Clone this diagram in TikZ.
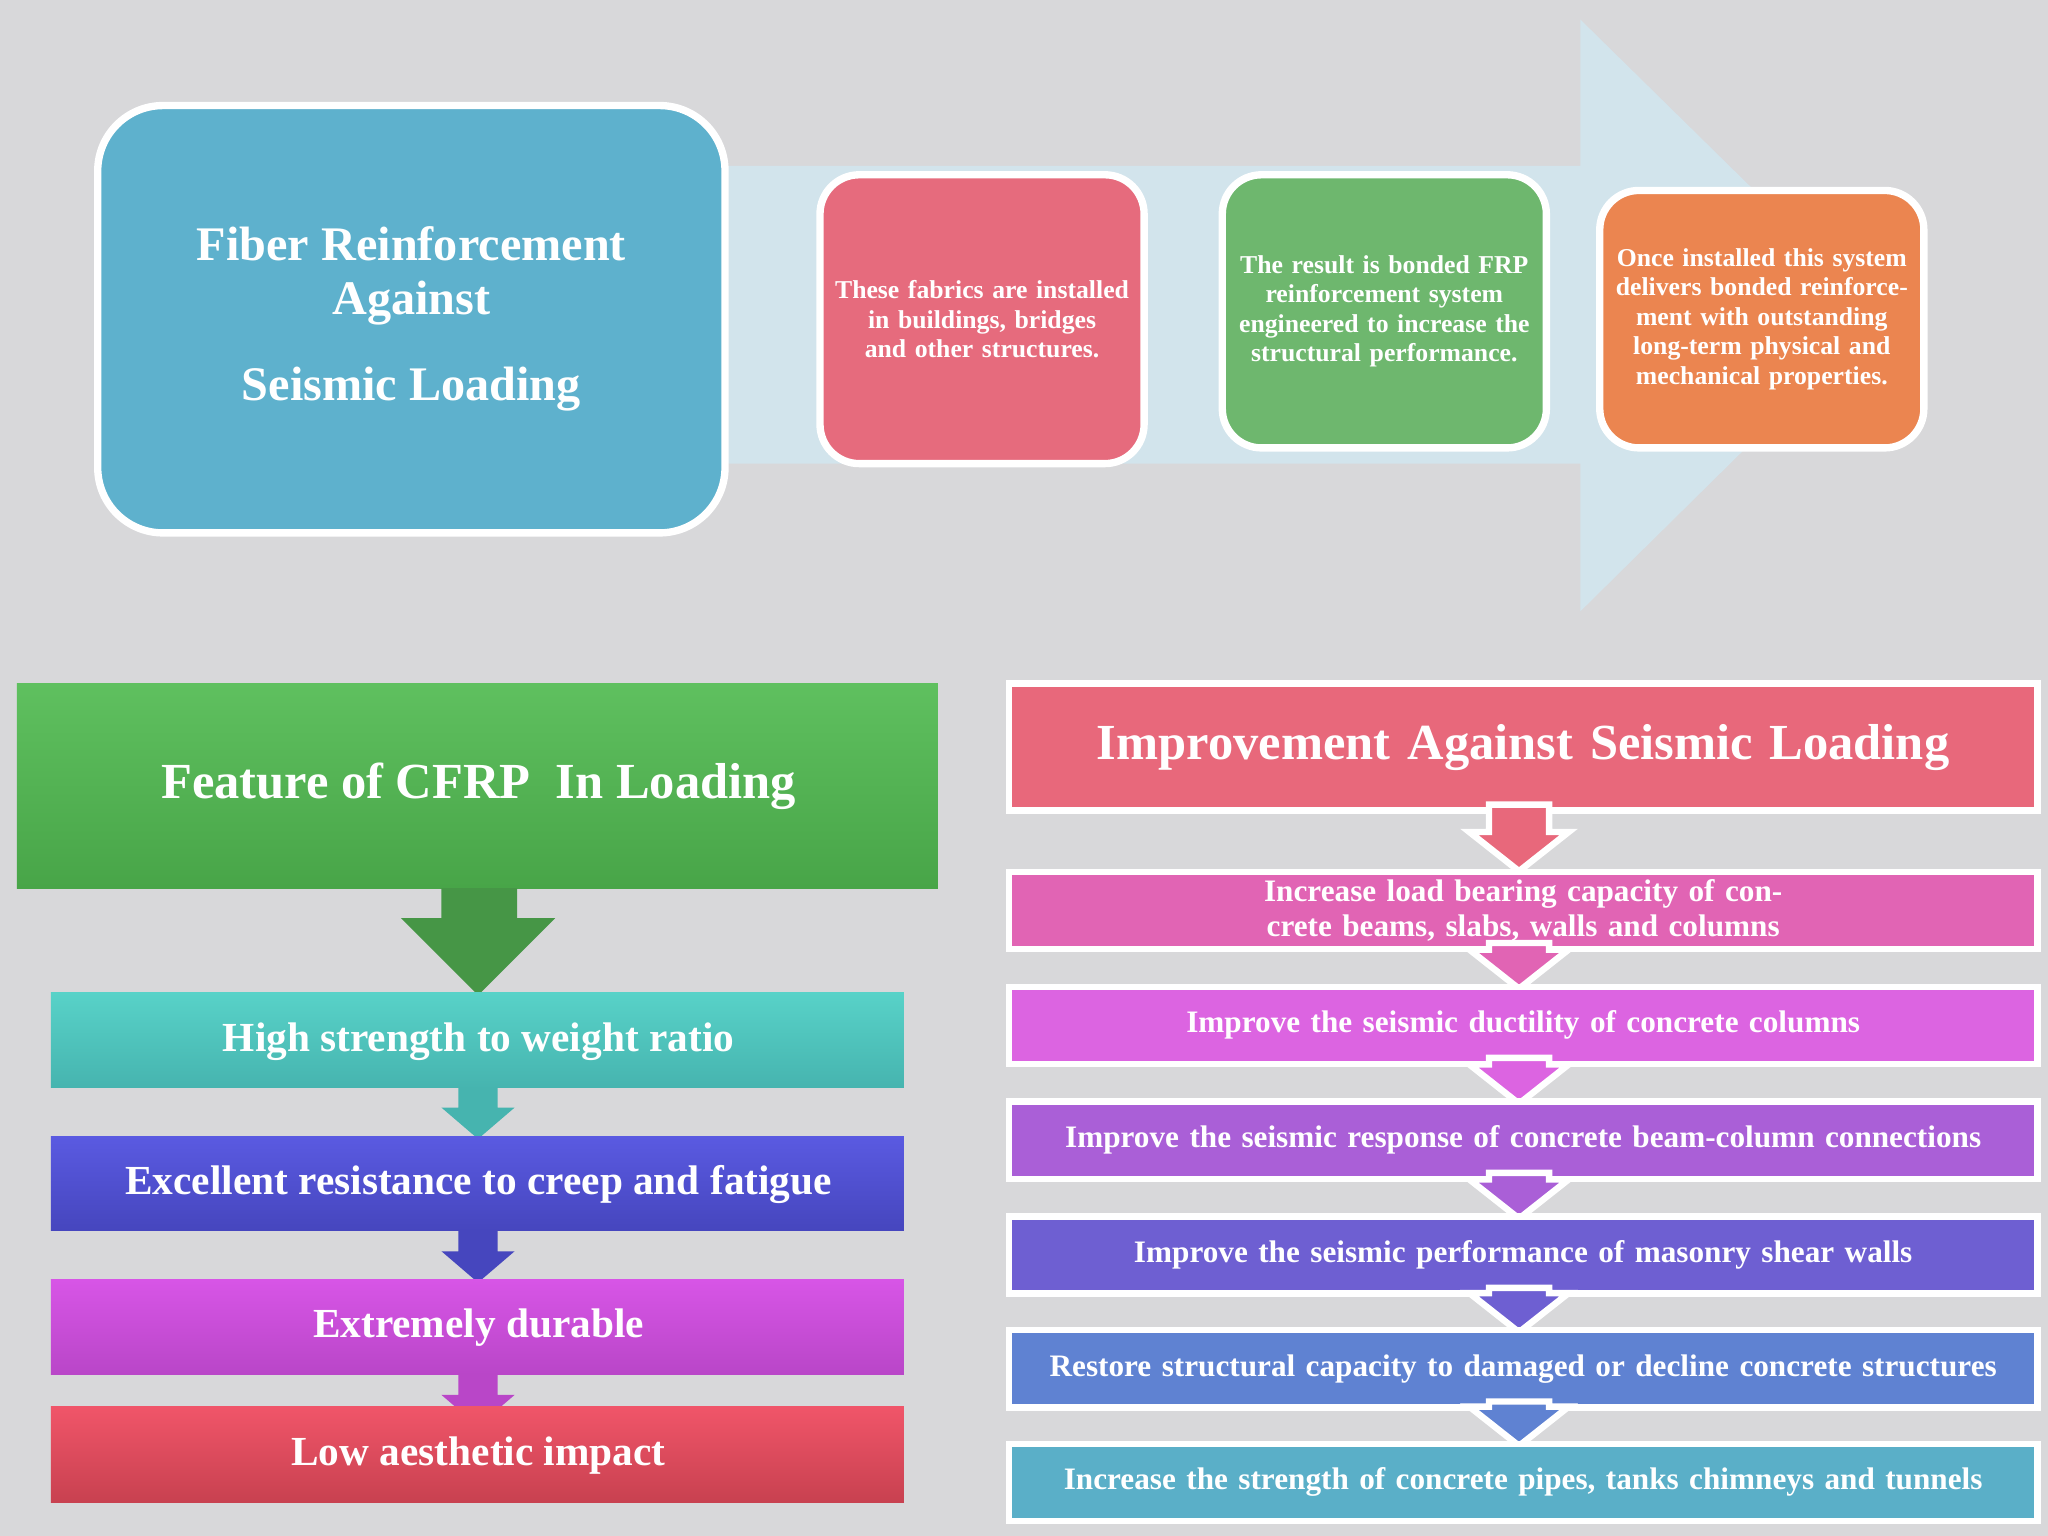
\documentclass[tikz,border=0pt]{standalone}
\usepackage{fontspec}
\setmainfont{Liberation Serif}
\definecolor{bg}{RGB}{216,216,218}
\definecolor{pale}{RGB}{210,228,236}
\definecolor{cblue}{RGB}{94,177,205}
\definecolor{cred}{RGB}{230,107,125}
\definecolor{cgreen}{RGB}{110,183,110}
\definecolor{corange}{RGB}{235,133,80}
\definecolor{gtop}{RGB}{95,192,95}
\definecolor{gbot}{RGB}{72,165,72}
\definecolor{garr}{RGB}{70,150,70}
\definecolor{t1}{RGB}{88,210,200}\definecolor{t2}{RGB}{70,180,175}
\definecolor{v1}{RGB}{90,90,225}\definecolor{v2}{RGB}{70,70,190}
\definecolor{m1}{RGB}{215,85,230}\definecolor{m2}{RGB}{185,70,200}
\definecolor{r1c}{RGB}{240,85,105}\definecolor{r2c}{RGB}{200,65,80}
\definecolor{hd}{RGB}{232,104,123}
\definecolor{q1}{RGB}{225,100,180}
\definecolor{q2}{RGB}{220,100,225}
\definecolor{q3}{RGB}{170,95,215}
\definecolor{q4}{RGB}{110,95,210}
\definecolor{q5}{RGB}{95,130,210}
\definecolor{q6}{RGB}{90,175,200}
\begin{document}
\begin{tikzpicture}[x=0.01cm,y=-0.01cm,
  card/.style={draw=white,line width=1.6pt,rounded corners=0.3cm,text=white,font=\bfseries\fontsize{5.6}{6.4}\selectfont,align=center,anchor=north west,inner sep=0pt},
  bar/.style={text=white,font=\bfseries\fontsize{9}{10}\selectfont,align=center,anchor=north west,inner sep=0pt},
  row/.style={draw=white,line width=1.4pt,text=white,font=\bfseries\fontsize{6.8}{7.6}\selectfont,align=center,anchor=north west,inner sep=0pt,minimum width=7.87cm,minimum height=0.59cm,text width=7.7cm}]
\fill[bg] (0,0) rectangle (1568,1176);
\useasboundingbox (0,0) rectangle (1568,1176);
% big arrow
\fill[pale] (540,127) -- (1210,127) -- (1210,15) -- (1440,241) -- (1210,468) -- (1210,355) -- (540,355) -- cycle;
\node[card,fill=cblue,minimum width=4.8cm,minimum height=3.27cm,rounded corners=0.5cm,font=\bfseries\fontsize{10.5}{11.6}\selectfont] (fiber) at (72,78) {Fiber Reinforcement\\Against\\[1.5ex]Seismic Loading};
\node[card,fill=cred,minimum width=2.48cm,minimum height=2.21cm,text width=2.3cm] (c1) at (625,131) {These fabrics are installed in buildings, bridges and other structures.\\[4ex]};
\node[card,fill=cgreen,minimum width=2.48cm,minimum height=2.09cm,text width=2.3cm] (c2) at (933,131) {The result is bonded FRP reinforcement system engineered to increase the structural performance.\\[2ex]};
\node[card,fill=corange,minimum width=2.48cm,minimum height=1.97cm,text width=2.3cm] (c3) at (1222,143) {Once installed this system delivers bonded reinforcement with outstanding long-term physical and mechanical properties.};
% left column
\shade[top color=gtop,bottom color=gbot] (13,523) rectangle (718,680);
\node[bar,font=\bfseries\fontsize{11}{12}\selectfont,minimum width=7.05cm,minimum height=1.57cm] (feat) at (13,523) {Feature of CFRP\ \ In Loading};
\fill[garr] (338,680) -- (396,680) -- (396,703) -- (425,703) -- (366,762) -- (307,703) -- (338,703) -- cycle;
\newcommand\sarrow[4]{\fill[#4] (351,#1) -- (381,#1) -- (381,#2) -- (394,#2) -- (366,#3) -- (338,#2) -- (351,#2) -- cycle;}
\newcommand\lbar[4]{\shade[top color=#3,bottom color=#4] (39,#1) rectangle (692,#2);}
\lbar{760}{833}{t1}{t2}
\node[bar,minimum width=6.53cm,minimum height=0.73cm] (b1) at (39,760) {High strength to weight ratio};
\sarrow{833}{848}{872}{t2}
\lbar{870}{942}{v1}{v2}
\node[bar,minimum width=6.53cm,minimum height=0.72cm] (b2) at (39,870) {Excellent resistance to creep and fatigue};
\sarrow{942}{958}{982}{v2}
\lbar{980}{1052}{m1}{m2}
\node[bar,minimum width=6.53cm,minimum height=0.72cm] (b3) at (39,980) {Extremely durable};
\sarrow{1052}{1068}{1092}{m2}
\lbar{1077}{1150}{r1c}{r2c}
\node[bar,minimum width=6.53cm,minimum height=0.73cm] (b4) at (39,1077) {Low aesthetic impact};
% right column
\node[row,fill=hd,minimum height=0.97cm,font=\bfseries\fontsize{11}{12}\selectfont] (h) at (770,521) {Improvement Against Seismic Loading};
\newcommand\rarrow[4]{\filldraw[draw=white,line width=1.4pt,fill=#4] (1140,#1) -- (1186,#1) -- (1186,#2) -- (1201,#2) -- (1163,#3) -- (1125,#2) -- (1140,#2) -- cycle;}
\rarrow{616}{637}{667}{hd}
\node[row,fill=q1] (r1) at (770,665) {Increase load bearing capacity of concrete beams, slabs, walls and columns};
\rarrow{722}{727}{757}{q1}
\node[row,fill=q2] (r2) at (770,753) {Improve the seismic ductility of concrete columns};
\rarrow{810}{815}{845}{q2}
\node[row,fill=q3] (r3) at (770,841) {Improve the seismic response of concrete beam-column connections};
\rarrow{898}{903}{933}{q3}
\node[row,fill=q4] (r4) at (770,929) {Improve the seismic performance of masonry shear walls};
\rarrow{986}{990}{1020}{q4}
\node[row,fill=q5] (r5) at (770,1016) {Restore structural capacity to damaged or decline concrete structures};
\rarrow{1073}{1077}{1107}{q5}
\node[row,fill=q6] (r6) at (770,1103) {Increase the strength of concrete pipes, tanks chimneys and tunnels};
\end{tikzpicture}
\end{document}
